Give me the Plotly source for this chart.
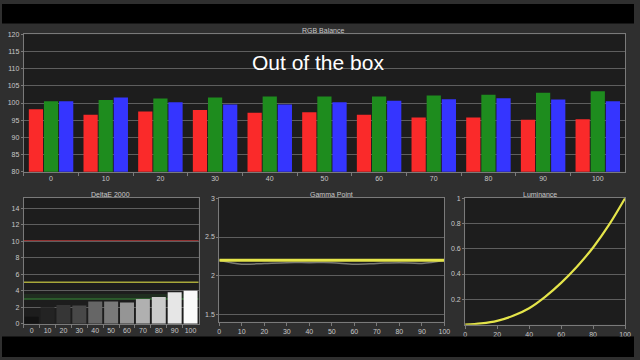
import plotly.graph_objects as go

# ---------------- data ----------------
levels = ["0", "10", "20", "30", "40", "50", "60", "70", "80", "90", "100"]
red_vals = [98.2, 96.6, 97.5, 98.0, 97.2, 97.3, 96.6, 95.8, 95.8, 95.1, 95.3]
green_vals = [100.5, 100.9, 101.3, 101.6, 101.9, 101.9, 101.9, 102.2, 102.4, 103.0, 103.4]
blue_vals = [100.5, 101.6, 100.2, 99.6, 99.6, 100.2, 100.7, 101.1, 101.4, 101.0, 100.5]

deltae_vals = [0.83, 1.98, 2.25, 2.2, 2.69, 2.69, 2.57, 3.0, 3.24, 3.8, 4.0]
deltae_colors = ["#121212", "#232323", "#363636", "#484848", "#666666", "#7a7a7a",
                 "#959595", "#b0b0b0", "#cbcbcb", "#e6e6e6", "#fafafa"]

gamma_x = [0, 10, 20, 30, 40, 50, 60, 70, 80, 90, 100]
gamma_measured = [2.2, 2.15, 2.16, 2.17, 2.17, 2.17, 2.15, 2.16, 2.17, 2.16, 2.2]
gamma_target = [2.2, 2.2, 2.2, 2.2, 2.2, 2.2, 2.2, 2.2, 2.2, 2.2, 2.2]

lum_x = [0, 10, 20, 30, 40, 50, 60, 70, 80, 90, 100]
lum_vals = [0.0, 0.01, 0.03, 0.07, 0.13, 0.22, 0.33, 0.46, 0.61, 0.79, 1.0]

W, H = 640, 360
def px(x): return x / W
def py(y): return 1 - y / H

BG = "#2f2f2f"
PLOT_BG = "#1d1d1d"
GRID = "#5e5e5e"
AXC = "#7a7a7a"
TXT = "#c8c8c8"
TF = dict(family="Liberation Sans, Arial", size=7, color=TXT)

fig = go.Figure()

fig.add_trace(go.Bar(x=levels, y=red_vals, marker=dict(color="#fa2a2a", line=dict(width=0)),
                     xaxis="x", yaxis="y", name="R"))
fig.add_trace(go.Bar(x=levels, y=green_vals, marker=dict(color="#1e8c1e", line=dict(width=0)),
                     xaxis="x", yaxis="y", name="G"))
fig.add_trace(go.Bar(x=levels, y=blue_vals, marker=dict(color="#3535ff", line=dict(width=0)),
                     xaxis="x", yaxis="y", name="B"))

fig.add_trace(go.Bar(x=levels, y=deltae_vals, marker=dict(color=deltae_colors, line=dict(width=0)),
                     xaxis="x2", yaxis="y2", name="dE", width=0.88))

fig.add_trace(go.Scatter(x=gamma_x, y=gamma_measured, mode="lines",
                         line=dict(color="#7a7a72", width=1.5, shape="spline"),
                         xaxis="x3", yaxis="y3"))
fig.add_trace(go.Scatter(x=gamma_x, y=gamma_target, mode="lines",
                         line=dict(color="#e4e44a", width=3),
                         xaxis="x3", yaxis="y3"))

fig.add_trace(go.Scatter(x=lum_x, y=lum_vals, mode="lines",
                         line=dict(color="#e4e44a", width=2.2, shape="spline"),
                         xaxis="x4", yaxis="y4"))

def yax(anchor, domain, rng, tickvals):
    return dict(anchor=anchor, domain=domain, range=rng, tickvals=tickvals, showgrid=True,
                gridcolor=GRID, gridwidth=1, zeroline=False, showline=True, linecolor=AXC,
                mirror=True, ticks="outside", ticklen=2, tickcolor=AXC, tickfont=TF,
                fixedrange=True)

def xax(domain, anchor, **kw):
    d = dict(domain=domain, anchor=anchor, showgrid=False, zeroline=False, showline=True,
             linecolor=AXC, mirror=True, ticks="outside", ticklen=3, tickcolor=AXC,
             tickfont=TF, tickangle=0, fixedrange=True)
    d.update(kw)
    return d

fig.update_layout(
    width=W, height=H,
    margin=dict(l=0, r=0, t=0, b=0),
    paper_bgcolor=BG,
    plot_bgcolor=PLOT_BG,
    showlegend=False,
    hovermode=False,
    barmode="group",
    bargap=0.17,
    bargroupgap=0.06,
    xaxis=xax([px(22), px(631)], "y", type="category", tickson="boundaries"),
    yaxis=yax("x", [py(171), py(31)], [80, 120], [80, 85, 90, 95, 100, 105, 110, 115, 120]),
    xaxis2=xax([px(22), px(199)], "y2", type="category", tickson="boundaries"),
    yaxis2=yax("x2", [py(326), py(198)], [0, 15.2], [0, 2, 4, 6, 8, 10, 12, 14]),
    xaxis3=xax([px(220), px(448)], "y3", range=[0, 100],
               tickvals=[0, 10, 20, 30, 40, 50, 60, 70, 80, 90, 100]),
    yaxis3=yax("x3", [py(324), py(198)], [1.41, 3.0], [1.5, 2, 2.5, 3]),
    xaxis4=xax([px(469), px(631)], "y4", range=[0, 100],
               tickvals=[0, 20, 40, 60, 80, 100]),
    yaxis4=yax("x4", [py(327), py(198)], [0, 1.0], [0.2, 0.4, 0.6, 0.8, 1]),
)

shapes = [
    dict(type="rect", xref="paper", yref="paper", x0=0, x1=1, y0=py(20), y1=1,
         fillcolor="#000000", line=dict(width=0), layer="above"),
    dict(type="rect", xref="paper", yref="paper", x0=0, x1=1, y0=0, y1=py(339),
         fillcolor="#000000", line=dict(width=0), layer="above"),
    dict(type="rect", xref="x2 domain", yref="y2", x0=0, x1=1, y0=3, y1=3.6,
         fillcolor="rgba(40,80,40,0.35)", line=dict(width=0), layer="below"),
    dict(type="line", xref="x2 domain", yref="y2", x0=0, x1=1, y0=3, y1=3,
         line=dict(color="#2f6a2f", width=1.5), layer="below"),
    dict(type="line", xref="x2 domain", yref="y2", x0=0, x1=1, y0=5, y1=5,
         line=dict(color="#a8a83a", width=1.5), layer="below"),
    dict(type="line", xref="x2 domain", yref="y2", x0=0, x1=1, y0=10, y1=10,
         line=dict(color="#b83a3a", width=1.5), layer="below"),
]
fig.update_layout(shapes=shapes)

ann = [
    dict(text="RGB Balance", x=px(326), y=py(27), xref="paper", yref="paper",
         showarrow=False, font=TF, xanchor="center", yanchor="middle"),
    dict(text="Out of the box", x=px(320), y=py(60), xref="paper", yref="paper",
         showarrow=False, font=dict(family="Liberation Sans, Arial", size=21, color="#ffffff"),
         xanchor="center", yanchor="middle"),
    dict(text="DeltaE 2000", x=px(110), y=py(194), xref="paper", yref="paper",
         showarrow=False, font=TF, xanchor="center", yanchor="middle"),
    dict(text="Gamma Point", x=px(334), y=py(194), xref="paper", yref="paper",
         showarrow=False, font=TF, xanchor="center", yanchor="middle"),
    dict(text="Luminance", x=px(545), y=py(194), xref="paper", yref="paper",
         showarrow=False, font=TF, xanchor="center", yanchor="middle"),
]
fig.update_layout(annotations=ann)

fig.write_html("out.html", config={"displayModeBar": False, "staticPlot": True},
               post_script="document.body.style.margin='0';document.body.style.overflow='hidden';document.body.style.background='#000';")
